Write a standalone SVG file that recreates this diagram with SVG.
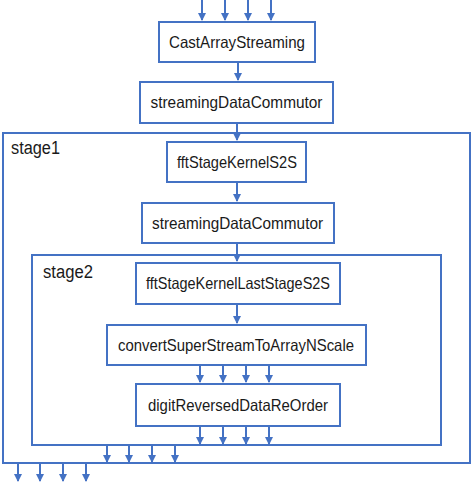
<svg xmlns="http://www.w3.org/2000/svg" width="474" height="485" viewBox="0 0 474 485">
<defs>
<marker id="ah" viewBox="0 0 8 8" refX="7" refY="4" markerWidth="4" markerHeight="4" orient="auto" markerUnits="strokeWidth">
<path d="M0,0 L8,4 L0,8 z" fill="#4472C4"/>
</marker>
</defs>
<style>
.box{fill:#fff;stroke:#4472C4;stroke-width:2}
.grp{fill:none;stroke:#4472C4;stroke-width:2}
.lbl{font-family:"Liberation Sans",Arial,sans-serif;font-size:16.5px;fill:#1a1a1a;text-anchor:middle}
.glbl{font-family:"Liberation Sans",Arial,sans-serif;font-size:18px;fill:#1a1a1a}
.ar{stroke:#4472C4;stroke-width:2;fill:none;marker-end:url(#ah)}
</style>
<rect width="474" height="485" fill="#fff"/>
<g id="stage1"><rect class="grp" x="3" y="133" width="467" height="330"/><text class="glbl" x="11" y="154" textLength="49" lengthAdjust="spacingAndGlyphs">stage1</text></g>
<g id="stage2"><rect class="grp" x="32" y="255" width="409" height="190"/><text class="glbl" x="43" y="278" textLength="50" lengthAdjust="spacingAndGlyphs">stage2</text></g>
<g id="castArrayStreaming"><rect class="box" x="159" y="22" width="156" height="40"/><text class="lbl" x="237" y="48" textLength="136" lengthAdjust="spacingAndGlyphs">CastArrayStreaming</text></g>
<g id="streamingDataCommutor1"><rect class="box" x="140" y="82" width="193" height="41"/><text class="lbl" x="236.5" y="108" textLength="172" lengthAdjust="spacingAndGlyphs">streamingDataCommutor</text></g>
<g id="fftStageKernelS2S"><rect class="box" x="167" y="142" width="139" height="40"/><text class="lbl" x="237" y="168" textLength="120" lengthAdjust="spacingAndGlyphs">fftStageKernelS2S</text></g>
<g id="streamingDataCommutor2"><rect class="box" x="142" y="203" width="192" height="40"/><text class="lbl" x="237.5" y="229" textLength="171" lengthAdjust="spacingAndGlyphs">streamingDataCommutor</text></g>
<g id="fftStageKernelLastStageS2S"><rect class="box" x="136" y="263" width="204" height="41"/><text class="lbl" x="238" y="289" textLength="184" lengthAdjust="spacingAndGlyphs">fftStageKernelLastStageS2S</text></g>
<g id="convertSuperStreamToArrayNScale"><rect class="box" x="107" y="325" width="259" height="40"/><text class="lbl" x="236" y="351" textLength="236" lengthAdjust="spacingAndGlyphs">convertSuperStreamToArrayNScale</text></g>
<g id="digitReversedDataReOrder"><rect class="box" x="136" y="384" width="204" height="42"/><text class="lbl" x="238" y="411" textLength="180" lengthAdjust="spacingAndGlyphs">digitReversedDataReOrder</text></g>
<g id="connectors">
<line class="ar" x1="202" y1="0" x2="202" y2="20"/>
<line class="ar" x1="225" y1="0" x2="225" y2="20"/>
<line class="ar" x1="248" y1="0" x2="248" y2="20"/>
<line class="ar" x1="271" y1="0" x2="271" y2="20"/>
<line class="ar" x1="238" y1="62" x2="238" y2="80"/>
<line class="ar" x1="237" y1="123" x2="237" y2="140"/>
<line class="ar" x1="237" y1="182" x2="237" y2="201"/>
<line class="ar" x1="237" y1="243" x2="237" y2="261"/>
<line class="ar" x1="237" y1="304" x2="237" y2="323"/>
<line class="ar" x1="200" y1="365" x2="200" y2="382"/>
<line class="ar" x1="223" y1="365" x2="223" y2="382"/>
<line class="ar" x1="246" y1="365" x2="246" y2="382"/>
<line class="ar" x1="269" y1="365" x2="269" y2="382"/>
<line class="ar" x1="200" y1="426" x2="200" y2="444"/>
<line class="ar" x1="223" y1="426" x2="223" y2="444"/>
<line class="ar" x1="246" y1="426" x2="246" y2="444"/>
<line class="ar" x1="269" y1="426" x2="269" y2="444"/>
<line class="ar" x1="107" y1="445" x2="107" y2="462"/>
<line class="ar" x1="129" y1="445" x2="129" y2="462"/>
<line class="ar" x1="152" y1="445" x2="152" y2="462"/>
<line class="ar" x1="175" y1="445" x2="175" y2="462"/>
<line class="ar" x1="18" y1="463" x2="18" y2="481"/>
<line class="ar" x1="40" y1="463" x2="40" y2="481"/>
<line class="ar" x1="63" y1="463" x2="63" y2="481"/>
<line class="ar" x1="86" y1="463" x2="86" y2="481"/>
</g>
</svg>
